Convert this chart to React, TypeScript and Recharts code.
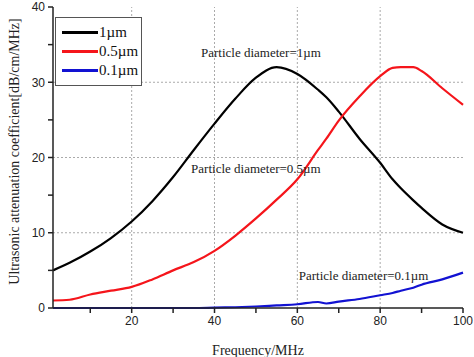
import {
  LineChart,
  Line,
  XAxis,
  YAxis,
  ReferenceLine,
  ReferenceDot,
  Legend,
} from "recharts";

// frequency in MHz
const freq = [1, 5, 10, 15, 20, 25, 30, 35, 40, 45, 50, 55, 60, 65, 67, 70, 75, 80, 83, 85, 88, 90, 95, 100];
// attenuation [dB/cm/MHz] per particle diameter
const d1um = [5.0, 6.0, 7.5, 9.3, 11.5, 14.2, 17.4, 21.0, 24.5, 27.8, 30.6, 32.0, 31.1, 29.0, 28.0, 26.1, 22.5, 19.3, 17.1, 15.9, 14.3, 13.3, 11.1, 10.0];
const d05um = [1.0, 1.1, 1.8, 2.3, 2.8, 3.8, 5.0, 6.1, 7.6, 9.6, 11.9, 14.4, 17.1, 21.0, 22.5, 24.9, 28.1, 30.8, 31.9, 32.0, 32.0, 31.5, 29.2, 27.0];
const d01um = [0, 0, 0, 0, 0, 0, 0, 0, 0.05, 0.1, 0.2, 0.35, 0.5, 0.8, 0.6, 0.85, 1.2, 1.7, 2.0, 2.3, 2.7, 3.1, 3.8, 4.7];

const seriesOrder = ["a", "b", "c"];
const xTicks = [10, 20, 30, 40, 50, 60, 70, 80, 90, 100];
const yTicks = [0, 5, 10, 15, 20, 25, 30, 35, 40];
const rightTicks = [4, 8, 12, 16, 20, 24, 28, 32, 36];
const xGrid = [20, 40, 60, 80];
const yGrid = [10, 20, 30];

const notes = [
  { x: 51.2, y: 34, text: "Particle diameter=1\u00b5m" },
  { x: 50, y: 18.6, text: "Particle diameter=0.5\u00b5m" },
  { x: 76, y: 4.4, text: "Particle diameter=0.1\u00b5m" },
];

const data = freq.map((f, i) => ({ freq: f, a: d1um[i], b: d05um[i], c: d01um[i] }));

const SANS = "'Liberation Sans', Arial, sans-serif";
const SERIF = "'Liberation Serif', 'Times New Roman', serif";
const AXIS = "#222";

function LegendBox(props: any) {
  const items = [...(props.payload || [])].sort(
    (p: any, q: any) => seriesOrder.indexOf(p.dataKey) - seriesOrder.indexOf(q.dataKey)
  );
  return (
    <div
      style={{
        border: "1px solid #555",
        background: "#fff",
        width: 87,
        padding: "5px 0 5px 6px",
        boxSizing: "border-box",
      }}
    >
      {items.map((it: any) => (
        <div key={it.value} style={{ display: "flex", alignItems: "center", height: 19 }}>
          <span style={{ display: "inline-block", width: 36, height: 3, background: it.color }} />
          <span style={{ fontFamily: SERIF, fontSize: 15, color: "#111", marginLeft: 1 }}>{it.value}</span>
        </div>
      ))}
    </div>
  );
}

function YTitle(props: any) {
  const vb = props.viewBox;
  const cx = vb.x + 14;
  const cy = vb.y + vb.height / 2 - 6;
  return (
    <text
      x={cx}
      y={cy}
      transform={`rotate(-90, ${cx}, ${cy})`}
      textAnchor="middle"
      dominantBaseline="central"
      fontFamily={SERIF}
      fontSize={14}
      fill="#222"
    >
      Ultrasonic attenuation coefficient[dB/cm/MHz]
    </text>
  );
}

export default function App() {
  return (
    <div style={{ position: "absolute", left: 0, top: 0, width: 474, height: 357, background: "#fff" }}>
      <LineChart width={474} height={357} data={data} margin={{ top: 7, right: 11, bottom: 0, left: 0 }}>
        <XAxis
          xAxisId="b"
          dataKey="freq"
          type="number"
          domain={[1, 100]}
          ticks={xTicks}
          interval={0}
          tickFormatter={(v: number) => (v % 20 === 0 ? String(v) : "")}
          height={49}
          stroke={AXIS}
          strokeWidth={1.5}
          tickSize={5}
          tickMargin={3}
          tick={{ fill: "#222", fontSize: 12, fontFamily: SANS }}
          label={{ value: "Frequency/MHz", position: "insideBottom", offset: 2, fill: "#222", fontSize: 14, fontFamily: SERIF }}
        />
        <XAxis
          xAxisId="t"
          orientation="top"
          dataKey="freq"
          type="number"
          domain={[1, 100]}
          ticks={xTicks}
          interval={0}
          mirror
          height={0}
          stroke={AXIS}
          strokeWidth={1.5}
          tickSize={5}
          tickFormatter={() => ""}
        />
        <YAxis
          yAxisId="l"
          type="number"
          domain={[0, 40]}
          ticks={yTicks}
          interval={0}
          tickFormatter={(v: number) => (v % 10 === 0 ? String(v) : "")}
          width={53}
          stroke={AXIS}
          strokeWidth={1.5}
          tickSize={5}
          tickMargin={3}
          tick={{ fill: "#222", fontSize: 12, fontFamily: SANS }}
          label={<YTitle />}
        />
        <YAxis
          yAxisId="r"
          orientation="right"
          type="number"
          domain={[0, 40]}
          ticks={rightTicks}
          interval={0}
          mirror
          width={0}
          stroke={AXIS}
          strokeWidth={1.5}
          tickSize={5}
          tickFormatter={() => ""}
        />
        {xGrid.map((g) => (
          <ReferenceLine key={"x" + g} xAxisId="b" yAxisId="l" x={g} stroke="#aaa" strokeDasharray="2 2" />
        ))}
        {yGrid.map((g) => (
          <ReferenceLine key={"y" + g} xAxisId="b" yAxisId="l" y={g} stroke="#aaa" strokeDasharray="2 2" />
        ))}
        <Line xAxisId="b" yAxisId="l" dataKey="a" name={"1\u00b5m"} type="monotone" stroke="#000" strokeWidth={2.2} dot={false} isAnimationActive={false} />
        <Line xAxisId="b" yAxisId="l" dataKey="b" name={"0.5\u00b5m"} type="monotone" stroke="#f5151b" strokeWidth={2.2} dot={false} isAnimationActive={false} />
        <Line xAxisId="b" yAxisId="l" dataKey="c" name={"0.1\u00b5m"} type="monotone" stroke="#1212d2" strokeWidth={2.2} dot={false} isAnimationActive={false} />
        {notes.map((n) => (
          <ReferenceDot
            key={n.text}
            xAxisId="b"
            yAxisId="l"
            x={n.x}
            y={n.y}
            r={0}
            stroke="none"
            label={{ value: n.text, position: "center", fill: "#222", fontSize: 13, fontFamily: SERIF }}
          />
        ))}
        <Legend
          layout="vertical"
          align="center"
          verticalAlign="middle"
          content={<LegendBox />}
          wrapperStyle={{ left: 55, top: 17, width: "auto" }}
        />
      </LineChart>
    </div>
  );
}
